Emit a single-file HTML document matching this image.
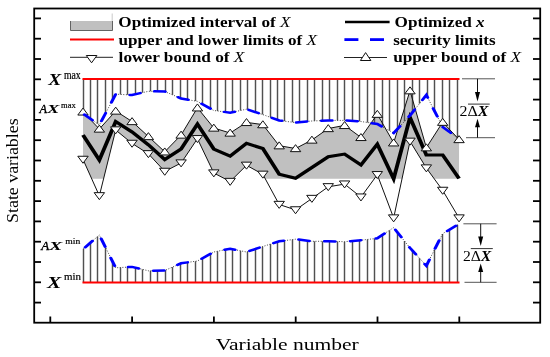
<!DOCTYPE html>
<html><head><meta charset="utf-8"><style>
html,body{margin:0;padding:0;background:#fff;width:550px;height:357px;overflow:hidden}
svg{display:block}
text{font-family:"Liberation Serif",serif}
</style></head><body>
<svg width="550" height="357" viewBox="0 0 550 357"><rect width="550" height="357" fill="#fff"/><polygon points="83.00,111.90 99.35,129.00 115.70,111.00 132.05,121.50 148.40,136.50 164.75,151.80 181.10,135.00 197.45,107.80 213.80,128.00 230.15,133.00 246.50,122.40 262.85,124.60 279.20,145.70 295.55,148.50 311.90,140.00 328.25,128.50 344.60,125.40 360.95,137.40 377.30,114.20 393.65,142.80 410.00,90.70 426.35,147.70 442.70,122.20 459.05,139.50 459.05,178.70 442.70,178.70 434.16,178.70 426.35,168.00 410.00,141.30 402.03,178.70 393.65,178.70 378.81,178.70 377.30,174.70 374.38,178.70 360.95,178.70 344.60,178.70 328.25,178.70 311.90,178.70 295.55,178.70 279.20,178.70 265.23,178.70 262.85,174.30 246.50,165.30 232.98,178.70 230.15,178.70 224.76,178.70 213.80,173.00 197.45,138.70 181.10,163.00 164.75,171.40 148.40,153.80 132.05,143.40 115.70,130.00 103.60,178.70 99.35,178.70 91.67,178.70 83.00,159.40" fill="#c0c0c0" stroke="none"/><g stroke="#505050" stroke-width="1.45"><line x1="83.50" y1="79.00" x2="83.50" y2="113.95"/><line x1="83.50" y1="248.77" x2="83.50" y2="282.50"/><line x1="90.50" y1="79.00" x2="90.50" y2="118.83"/><line x1="90.50" y1="242.69" x2="90.50" y2="282.50"/><line x1="97.50" y1="79.00" x2="97.50" y2="123.71"/><line x1="97.50" y1="236.61" x2="97.50" y2="282.50"/><line x1="105.50" y1="79.00" x2="105.50" y2="113.41"/><line x1="105.50" y1="247.34" x2="105.50" y2="282.50"/><line x1="112.50" y1="79.00" x2="112.50" y2="100.23"/><line x1="112.50" y1="261.38" x2="112.50" y2="282.50"/><line x1="120.50" y1="79.00" x2="120.50" y2="94.43"/><line x1="120.50" y1="267.54" x2="120.50" y2="282.50"/><line x1="127.50" y1="79.00" x2="127.50" y2="94.78"/><line x1="127.50" y1="267.15" x2="127.50" y2="282.50"/><line x1="135.50" y1="79.00" x2="135.50" y2="94.22"/><line x1="135.50" y1="267.72" x2="135.50" y2="282.50"/><line x1="142.50" y1="79.00" x2="142.50" y2="92.64"/><line x1="142.50" y1="269.39" x2="142.50" y2="282.50"/><line x1="150.50" y1="79.00" x2="150.50" y2="91.33"/><line x1="150.50" y1="270.76" x2="150.50" y2="282.50"/><line x1="157.50" y1="79.00" x2="157.50" y2="91.41"/><line x1="157.50" y1="270.63" x2="157.50" y2="282.50"/><line x1="165.50" y1="79.00" x2="165.50" y2="91.82"/><line x1="165.50" y1="270.17" x2="165.50" y2="282.50"/><line x1="172.50" y1="79.00" x2="172.50" y2="94.82"/><line x1="172.50" y1="267.09" x2="172.50" y2="282.50"/><line x1="180.50" y1="79.00" x2="180.50" y2="98.24"/><line x1="180.50" y1="263.56" x2="180.50" y2="282.50"/><line x1="187.50" y1="79.00" x2="187.50" y2="99.64"/><line x1="187.50" y1="262.40" x2="187.50" y2="282.50"/><line x1="195.50" y1="79.00" x2="195.50" y2="101.05"/><line x1="195.50" y1="261.27" x2="195.50" y2="282.50"/><line x1="202.50" y1="79.00" x2="202.50" y2="104.21"/><line x1="202.50" y1="258.22" x2="202.50" y2="282.50"/><line x1="210.50" y1="79.00" x2="210.50" y2="108.66"/><line x1="210.50" y1="253.82" x2="210.50" y2="282.50"/><line x1="217.50" y1="79.00" x2="217.50" y2="111.00"/><line x1="217.50" y1="251.25" x2="217.50" y2="282.50"/><line x1="225.50" y1="79.00" x2="225.50" y2="112.07"/><line x1="225.50" y1="249.64" x2="225.50" y2="282.50"/><line x1="232.50" y1="79.00" x2="232.50" y2="112.20"/><line x1="232.50" y1="249.17" x2="232.50" y2="282.50"/><line x1="240.50" y1="79.00" x2="240.50" y2="110.48"/><line x1="240.50" y1="250.79" x2="240.50" y2="282.50"/><line x1="247.50" y1="79.00" x2="247.50" y2="109.53"/><line x1="247.50" y1="251.66" x2="247.50" y2="282.50"/><line x1="255.50" y1="79.00" x2="255.50" y2="112.17"/><line x1="255.50" y1="248.97" x2="255.50" y2="282.50"/><line x1="262.50" y1="79.00" x2="262.50" y2="114.48"/><line x1="262.50" y1="246.62" x2="262.50" y2="282.50"/><line x1="270.50" y1="79.00" x2="270.50" y2="117.36"/><line x1="270.50" y1="244.07" x2="270.50" y2="282.50"/><line x1="277.50" y1="79.00" x2="277.50" y2="119.89"/><line x1="277.50" y1="241.84" x2="277.50" y2="282.50"/><line x1="284.50" y1="79.00" x2="284.50" y2="121.18"/><line x1="284.50" y1="240.62" x2="284.50" y2="282.50"/><line x1="292.50" y1="79.00" x2="292.50" y2="122.21"/><line x1="292.50" y1="239.59" x2="292.50" y2="282.50"/><line x1="299.50" y1="79.00" x2="299.50" y2="122.21"/><line x1="299.50" y1="239.71" x2="299.50" y2="282.50"/><line x1="307.50" y1="79.00" x2="307.50" y2="121.43"/><line x1="307.50" y1="240.73" x2="307.50" y2="282.50"/><line x1="314.50" y1="79.00" x2="314.50" y2="120.90"/><line x1="314.50" y1="241.30" x2="314.50" y2="282.50"/><line x1="322.50" y1="79.00" x2="322.50" y2="120.61"/><line x1="322.50" y1="241.30" x2="322.50" y2="282.50"/><line x1="329.50" y1="79.00" x2="329.50" y2="120.40"/><line x1="329.50" y1="241.33" x2="329.50" y2="282.50"/><line x1="337.50" y1="79.00" x2="337.50" y2="120.40"/><line x1="337.50" y1="241.53" x2="337.50" y2="282.50"/><line x1="344.50" y1="79.00" x2="344.50" y2="120.40"/><line x1="344.50" y1="241.70" x2="344.50" y2="282.50"/><line x1="352.50" y1="79.00" x2="352.50" y2="120.93"/><line x1="352.50" y1="240.98" x2="352.50" y2="282.50"/><line x1="359.50" y1="79.00" x2="359.50" y2="121.40"/><line x1="359.50" y1="240.33" x2="359.50" y2="282.50"/><line x1="367.50" y1="79.00" x2="367.50" y2="122.50"/><line x1="367.50" y1="239.44" x2="367.50" y2="282.50"/><line x1="374.50" y1="79.00" x2="374.50" y2="123.57"/><line x1="374.50" y1="238.63" x2="374.50" y2="282.50"/><line x1="382.50" y1="79.00" x2="382.50" y2="126.86"/><line x1="382.50" y1="234.90" x2="382.50" y2="282.50"/><line x1="389.50" y1="79.00" x2="389.50" y2="130.72"/><line x1="389.50" y1="230.32" x2="389.50" y2="282.50"/><line x1="397.50" y1="79.00" x2="397.50" y2="128.88"/><line x1="397.50" y1="232.38" x2="397.50" y2="282.50"/><line x1="404.50" y1="79.00" x2="404.50" y2="121.39"/><line x1="404.50" y1="241.07" x2="404.50" y2="282.50"/><line x1="412.50" y1="79.00" x2="412.50" y2="112.37"/><line x1="412.50" y1="250.62" x2="412.50" y2="282.50"/><line x1="419.50" y1="79.00" x2="419.50" y2="103.59"/><line x1="419.50" y1="258.24" x2="419.50" y2="282.50"/><line x1="427.50" y1="79.00" x2="427.50" y2="97.25"/><line x1="427.50" y1="263.44" x2="427.50" y2="282.50"/><line x1="434.50" y1="79.00" x2="434.50" y2="110.95"/><line x1="434.50" y1="249.70" x2="434.50" y2="282.50"/><line x1="442.50" y1="79.00" x2="442.50" y2="126.61"/><line x1="442.50" y1="233.99" x2="442.50" y2="282.50"/><line x1="449.50" y1="79.00" x2="449.50" y2="131.99"/><line x1="449.50" y1="229.61" x2="449.50" y2="282.50"/><line x1="457.50" y1="79.00" x2="457.50" y2="137.86"/><line x1="457.50" y1="224.91" x2="457.50" y2="282.50"/></g><path d="M83.000,113.60 L99.350,125.00 L115.700,94.20 L132.050,95.00 L148.400,91.30 L164.750,91.50 L181.100,98.50 L197.450,101.40 L213.800,110.50 L230.150,112.70 L246.500,109.20 L262.850,114.60 L279.200,120.50 L295.550,122.60 L311.900,121.00 L328.250,120.40 L344.600,120.40 L360.950,121.50 L377.300,124.00 L393.650,133.00 L410.000,115.50 L426.350,95.00 L442.700,127.00 L459.050,139.00" fill="none" stroke="#333" stroke-width="0.9" stroke-dasharray="1,1.6"/><path d="M83.000,249.20 L99.350,235.00 L115.700,267.80 L132.050,266.90 L148.400,270.80 L164.750,270.50 L181.100,263.30 L197.450,261.00 L213.800,252.00 L230.150,248.70 L246.500,252.00 L262.850,246.50 L279.200,241.30 L295.550,239.20 L311.900,241.30 L328.250,241.30 L344.600,241.70 L360.950,240.20 L377.300,238.30 L393.650,227.60 L410.000,247.90 L426.350,265.70 L442.700,233.60 L459.050,224.00" fill="none" stroke="#333" stroke-width="0.9" stroke-dasharray="1,1.6"/><line x1="82.5" y1="79.0" x2="459.5" y2="79.0" stroke="#ff0000" stroke-width="2"/><line x1="82.5" y1="282.5" x2="459.5" y2="282.5" stroke="#ff0000" stroke-width="2"/><polyline points="83.00,111.90 99.35,129.00 115.70,111.00 132.05,121.50 148.40,136.50 164.75,151.80 181.10,135.00 197.45,107.80 213.80,128.00 230.15,133.00 246.50,122.40 262.85,124.60 279.20,145.70 295.55,148.50 311.90,140.00 328.25,128.50 344.60,125.40 360.95,137.40 377.30,114.20 393.65,142.80 410.00,90.70 426.35,147.70 442.70,122.20 459.05,139.50" fill="none" stroke="#111" stroke-width="1"/><polyline points="83.00,159.40 99.35,195.80 115.70,130.00 132.05,143.40 148.40,153.80 164.75,171.40 181.10,163.00 197.45,138.70 213.80,173.00 230.15,181.50 246.50,165.30 262.85,174.30 279.20,204.50 295.55,209.90 311.90,198.50 328.25,186.80 344.60,184.10 360.95,197.10 377.30,174.70 393.65,218.00 410.00,141.30 426.35,168.00 442.70,190.40 459.05,218.00" fill="none" stroke="#111" stroke-width="1"/><polyline transform="scale(1.25,1)" points="66.400,135.00 79.480,160.00 92.560,121.50 105.640,132.00 118.720,144.80 131.800,159.50 144.880,149.00 157.960,124.00 171.040,149.00 184.120,156.00 197.200,143.40 210.280,148.50 223.360,174.30 236.440,178.30 249.520,167.50 262.600,156.80 275.680,154.10 288.760,165.00 301.840,144.20 314.920,178.80 328.000,117.50 341.080,155.00 354.160,155.00 367.240,178.50" fill="none" stroke="#000" stroke-width="3.1" stroke-linejoin="miter"/><g fill="#fff" stroke="#111" stroke-width="1"><path d="M83.00,108.05 L88.20,115.05 L77.80,115.05 Z"/><path d="M99.35,125.15 L104.55,132.15 L94.15,132.15 Z"/><path d="M115.70,107.15 L120.90,114.15 L110.50,114.15 Z"/><path d="M132.05,117.65 L137.25,124.65 L126.85,124.65 Z"/><path d="M148.40,132.65 L153.60,139.65 L143.20,139.65 Z"/><path d="M164.75,147.95 L169.95,154.95 L159.55,154.95 Z"/><path d="M181.10,131.15 L186.30,138.15 L175.90,138.15 Z"/><path d="M197.45,103.95 L202.65,110.95 L192.25,110.95 Z"/><path d="M213.80,124.15 L219.00,131.15 L208.60,131.15 Z"/><path d="M230.15,129.15 L235.35,136.15 L224.95,136.15 Z"/><path d="M246.50,118.55 L251.70,125.55 L241.30,125.55 Z"/><path d="M262.85,120.75 L268.05,127.75 L257.65,127.75 Z"/><path d="M279.20,141.85 L284.40,148.85 L274.00,148.85 Z"/><path d="M295.55,144.65 L300.75,151.65 L290.35,151.65 Z"/><path d="M311.90,136.15 L317.10,143.15 L306.70,143.15 Z"/><path d="M328.25,124.65 L333.45,131.65 L323.05,131.65 Z"/><path d="M344.60,121.55 L349.80,128.55 L339.40,128.55 Z"/><path d="M360.95,133.55 L366.15,140.55 L355.75,140.55 Z"/><path d="M377.30,110.35 L382.50,117.35 L372.10,117.35 Z"/><path d="M393.65,138.95 L398.85,145.95 L388.45,145.95 Z"/><path d="M410.00,86.85 L415.20,93.85 L404.80,93.85 Z"/><path d="M426.35,143.85 L431.55,150.85 L421.15,150.85 Z"/><path d="M442.70,118.35 L447.90,125.35 L437.50,125.35 Z"/><path d="M459.05,135.65 L464.25,142.65 L453.85,142.65 Z"/><path d="M83.00,163.25 L88.20,156.25 L77.80,156.25 Z"/><path d="M99.35,199.65 L104.55,192.65 L94.15,192.65 Z"/><path d="M115.70,133.85 L120.90,126.85 L110.50,126.85 Z"/><path d="M132.05,147.25 L137.25,140.25 L126.85,140.25 Z"/><path d="M148.40,157.65 L153.60,150.65 L143.20,150.65 Z"/><path d="M164.75,175.25 L169.95,168.25 L159.55,168.25 Z"/><path d="M181.10,166.85 L186.30,159.85 L175.90,159.85 Z"/><path d="M197.45,142.55 L202.65,135.55 L192.25,135.55 Z"/><path d="M213.80,176.85 L219.00,169.85 L208.60,169.85 Z"/><path d="M230.15,185.35 L235.35,178.35 L224.95,178.35 Z"/><path d="M246.50,169.15 L251.70,162.15 L241.30,162.15 Z"/><path d="M262.85,178.15 L268.05,171.15 L257.65,171.15 Z"/><path d="M279.20,208.35 L284.40,201.35 L274.00,201.35 Z"/><path d="M295.55,213.75 L300.75,206.75 L290.35,206.75 Z"/><path d="M311.90,202.35 L317.10,195.35 L306.70,195.35 Z"/><path d="M328.25,190.65 L333.45,183.65 L323.05,183.65 Z"/><path d="M344.60,187.95 L349.80,180.95 L339.40,180.95 Z"/><path d="M360.95,200.95 L366.15,193.95 L355.75,193.95 Z"/><path d="M377.30,178.55 L382.50,171.55 L372.10,171.55 Z"/><path d="M393.65,221.85 L398.85,214.85 L388.45,214.85 Z"/><path d="M410.00,145.15 L415.20,138.15 L404.80,138.15 Z"/><path d="M426.35,171.85 L431.55,164.85 L421.15,164.85 Z"/><path d="M442.70,194.25 L447.90,187.25 L437.50,187.25 Z"/><path d="M459.05,221.85 L464.25,214.85 L453.85,214.85 Z"/></g><g transform="scale(1.25,1)" fill="none" stroke="#0000ff" stroke-width="2.5" stroke-linecap="round"><path d="M66.400,113.60 L79.480,125.00 L92.560,94.20 L105.640,95.00 L118.720,91.30 L131.800,91.50 L144.880,98.50 L157.960,101.40 L171.040,110.50 L184.120,112.70 L197.200,109.20 L210.280,114.60 L223.360,120.50 L236.440,122.60 L249.520,121.00 L262.600,120.40 L275.680,120.40 L288.760,121.50 L301.840,124.00 L314.920,133.00 L328.000,115.50 L341.080,95.00 L354.160,127.00 L367.240,139.00" stroke-dasharray="8.6,11.65" stroke-dashoffset="-1.4"/><path d="M66.400,249.20 L79.480,235.00 L92.560,267.80 L105.640,266.90 L118.720,270.80 L131.800,270.50 L144.880,263.30 L157.960,261.00 L171.040,252.00 L184.120,248.70 L197.200,252.00 L210.280,246.50 L223.360,241.30 L236.440,239.20 L249.520,241.30 L262.600,241.30 L275.680,241.70 L288.760,240.20 L301.840,238.30 L314.920,227.60 L328.000,247.90 L341.080,265.70 L354.160,233.60 L367.240,224.00" stroke-dasharray="8.6,12.1" stroke-dashoffset="-2.6"/></g><g stroke="#000" stroke-width="1.8"><line x1="34" y1="18.40" x2="41" y2="18.40"/><line x1="533" y1="18.40" x2="540" y2="18.40"/><line x1="34" y1="38.70" x2="41" y2="38.70"/><line x1="533" y1="38.70" x2="540" y2="38.70"/><line x1="34" y1="59.00" x2="41" y2="59.00"/><line x1="533" y1="59.00" x2="540" y2="59.00"/><line x1="34" y1="79.30" x2="41" y2="79.30"/><line x1="533" y1="79.30" x2="540" y2="79.30"/><line x1="34" y1="99.60" x2="41" y2="99.60"/><line x1="533" y1="99.60" x2="540" y2="99.60"/><line x1="34" y1="119.90" x2="41" y2="119.90"/><line x1="533" y1="119.90" x2="540" y2="119.90"/><line x1="34" y1="140.20" x2="41" y2="140.20"/><line x1="533" y1="140.20" x2="540" y2="140.20"/><line x1="34" y1="160.50" x2="41" y2="160.50"/><line x1="533" y1="160.50" x2="540" y2="160.50"/><line x1="34" y1="180.80" x2="41" y2="180.80"/><line x1="533" y1="180.80" x2="540" y2="180.80"/><line x1="34" y1="201.10" x2="41" y2="201.10"/><line x1="533" y1="201.10" x2="540" y2="201.10"/><line x1="34" y1="221.40" x2="41" y2="221.40"/><line x1="533" y1="221.40" x2="540" y2="221.40"/><line x1="34" y1="241.70" x2="41" y2="241.70"/><line x1="533" y1="241.70" x2="540" y2="241.70"/><line x1="34" y1="262.00" x2="41" y2="262.00"/><line x1="533" y1="262.00" x2="540" y2="262.00"/><line x1="34" y1="282.30" x2="41" y2="282.30"/><line x1="533" y1="282.30" x2="540" y2="282.30"/><line x1="34" y1="302.60" x2="41" y2="302.60"/><line x1="533" y1="302.60" x2="540" y2="302.60"/><line x1="50.30" y1="323" x2="50.30" y2="316.5"/><line x1="132.10" y1="323" x2="132.10" y2="316.5"/><line x1="213.90" y1="323" x2="213.90" y2="316.5"/><line x1="295.70" y1="323" x2="295.70" y2="316.5"/><line x1="377.50" y1="323" x2="377.50" y2="316.5"/><line x1="459.30" y1="323" x2="459.30" y2="316.5"/></g><rect x="34.2" y="8.5" width="506" height="314.2" fill="none" stroke="#000" stroke-width="1.8"/><rect x="70.5" y="21" width="42" height="9.5" fill="#c0c0c0"/><polyline points="70.5,21 70.5,30.5 112.5,30.5 112.5,21" fill="none" stroke="#555" stroke-width="0.9"/><line x1="112.2" y1="13.5" x2="112.2" y2="21" stroke="#bbb" stroke-width="0.8"/><line x1="70" y1="39.4" x2="114" y2="39.4" stroke="#ff0000" stroke-width="2"/><line x1="70" y1="57.3" x2="113" y2="57.3" stroke="#222" stroke-width="1"/><path d="M86.3,55.5 L96.9,55.5 L91.6,62.8 Z" fill="#fff" stroke="#111" stroke-width="1"/><line x1="345" y1="22" x2="389.6" y2="22" stroke="#000" stroke-width="2.5"/><line x1="344.4" y1="39.6" x2="358.4" y2="39.6" stroke="#0000ff" stroke-width="2.8"/><line x1="370" y1="39.6" x2="384" y2="39.6" stroke="#0000ff" stroke-width="2.8"/><line x1="344" y1="57.5" x2="387" y2="57.5" stroke="#222" stroke-width="1"/><path d="M365.6,52.6 L370.9,60.5 L360.4,60.5 Z" fill="#fff" stroke="#111" stroke-width="1"/><g font-family="Liberation Serif, serif" fill="#000"><text x="118.3" y="26.8" font-size="14.5" textLength="172.2" lengthAdjust="spacingAndGlyphs" font-weight="bold">Optimized interval of <tspan font-style="italic" font-weight="normal">X</tspan></text><text x="118.6" y="44.7" font-size="14.5" textLength="198.4" lengthAdjust="spacingAndGlyphs" font-weight="bold">upper and lower limits of <tspan font-style="italic" font-weight="normal">X</tspan></text><text x="118.6" y="62.4" font-size="14.5" textLength="125.8" lengthAdjust="spacingAndGlyphs" font-weight="bold">lower bound of <tspan font-style="italic" font-weight="normal">X</tspan></text><text x="394.6" y="26.8" font-size="14.5" textLength="90.1" lengthAdjust="spacingAndGlyphs" font-weight="bold">Optimized <tspan font-style="italic">x</tspan></text><text x="393.2" y="44.7" font-size="14.5" textLength="102.4" lengthAdjust="spacingAndGlyphs" font-weight="bold">security limits</text><text x="393.2" y="62.4" font-size="14.5" textLength="127.8" lengthAdjust="spacingAndGlyphs" font-weight="bold">upper bound of <tspan font-style="italic" font-weight="normal">X</tspan></text></g><text x="215.8" y="349.6" font-size="16" font-family="Liberation Serif, serif" textLength="143" lengthAdjust="spacingAndGlyphs">Variable number</text><text transform="translate(17.6,222.9) rotate(-90)" x="0" y="0" font-size="16" font-family="Liberation Serif, serif" textLength="104.5" lengthAdjust="spacingAndGlyphs">State variables</text><text x="48.3" y="85.3" font-size="16" font-family="Liberation Serif, serif" font-style="italic" font-weight="bold" textLength="13" lengthAdjust="spacingAndGlyphs">X</text><text x="63.9" y="79" font-size="11.5" font-family="Liberation Serif, serif" textLength="16.8" lengthAdjust="spacingAndGlyphs" stroke="#000" stroke-width="0.2">max</text><text x="39.6" y="112.7" font-size="12.3" font-family="Liberation Serif, serif" font-style="italic" stroke="#000" stroke-width="0.35">A</text><text x="47" y="112.8" font-size="12" font-family="Liberation Serif, serif" font-style="italic" font-weight="bold" textLength="12.3" lengthAdjust="spacingAndGlyphs">X</text><text x="61.1" y="107.6" font-size="8.8" font-family="Liberation Serif, serif" textLength="14.7" lengthAdjust="spacingAndGlyphs" stroke="#000" stroke-width="0.2">max</text><text x="41.2" y="249.6" font-size="13" font-family="Liberation Serif, serif" font-style="italic" stroke="#000" stroke-width="0.35">A</text><text x="49" y="249.6" font-size="13" font-family="Liberation Serif, serif" font-style="italic" font-weight="bold" textLength="13.2" lengthAdjust="spacingAndGlyphs">X</text><text x="65.3" y="244.2" font-size="9" font-family="Liberation Serif, serif" textLength="15" lengthAdjust="spacingAndGlyphs" stroke="#000" stroke-width="0.2">min</text><text x="47" y="287.8" font-size="16" font-family="Liberation Serif, serif" font-style="italic" font-weight="bold" textLength="14.3" lengthAdjust="spacingAndGlyphs">X</text><text x="64" y="280.2" font-size="11" font-family="Liberation Serif, serif" textLength="17" lengthAdjust="spacingAndGlyphs" stroke="#000" stroke-width="0.2">min</text><line x1="462" y1="78.8" x2="495" y2="78.8" stroke="#555" stroke-width="1"/><line x1="466" y1="137.7" x2="495" y2="137.7" stroke="#555" stroke-width="1"/><line x1="477.5" y1="78.8" x2="477.5" y2="93.5" stroke="#111" stroke-width="1"/><path d="M475.0,92.0 L480.0,92.0 L477.5,101.5 Z" fill="#000"/><line x1="477.5" y1="137.7" x2="477.5" y2="126.8" stroke="#111" stroke-width="1"/><path d="M475.0,127.3 L480.0,127.3 L477.5,118.8 Z" fill="#000"/><line x1="468" y1="104.1" x2="489.7" y2="104.1" stroke="#333" stroke-width="1"/><text x="459.6" y="116.3" font-size="13.6" font-family="Liberation Serif, serif" textLength="28.8" lengthAdjust="spacingAndGlyphs">2Δ<tspan font-style="italic" font-weight="bold">X</tspan></text><line x1="463.4" y1="223.8" x2="496.6" y2="223.8" stroke="#555" stroke-width="1"/><line x1="464.5" y1="282.3" x2="496.6" y2="282.3" stroke="#555" stroke-width="1"/><line x1="480.7" y1="223.8" x2="480.7" y2="238.1" stroke="#111" stroke-width="1"/><path d="M478.2,236.6 L483.2,236.6 L480.7,246.1 Z" fill="#000"/><line x1="480.7" y1="282.3" x2="480.7" y2="271.4" stroke="#111" stroke-width="1"/><path d="M478.2,271.9 L483.2,271.9 L480.7,263.4 Z" fill="#000"/><line x1="470.8" y1="248.6" x2="492.8" y2="248.6" stroke="#333" stroke-width="1"/><text x="463" y="260.6" font-size="13.6" font-family="Liberation Serif, serif" textLength="28.3" lengthAdjust="spacingAndGlyphs">2Δ<tspan font-style="italic" font-weight="bold">X</tspan></text></svg>
</body></html>
